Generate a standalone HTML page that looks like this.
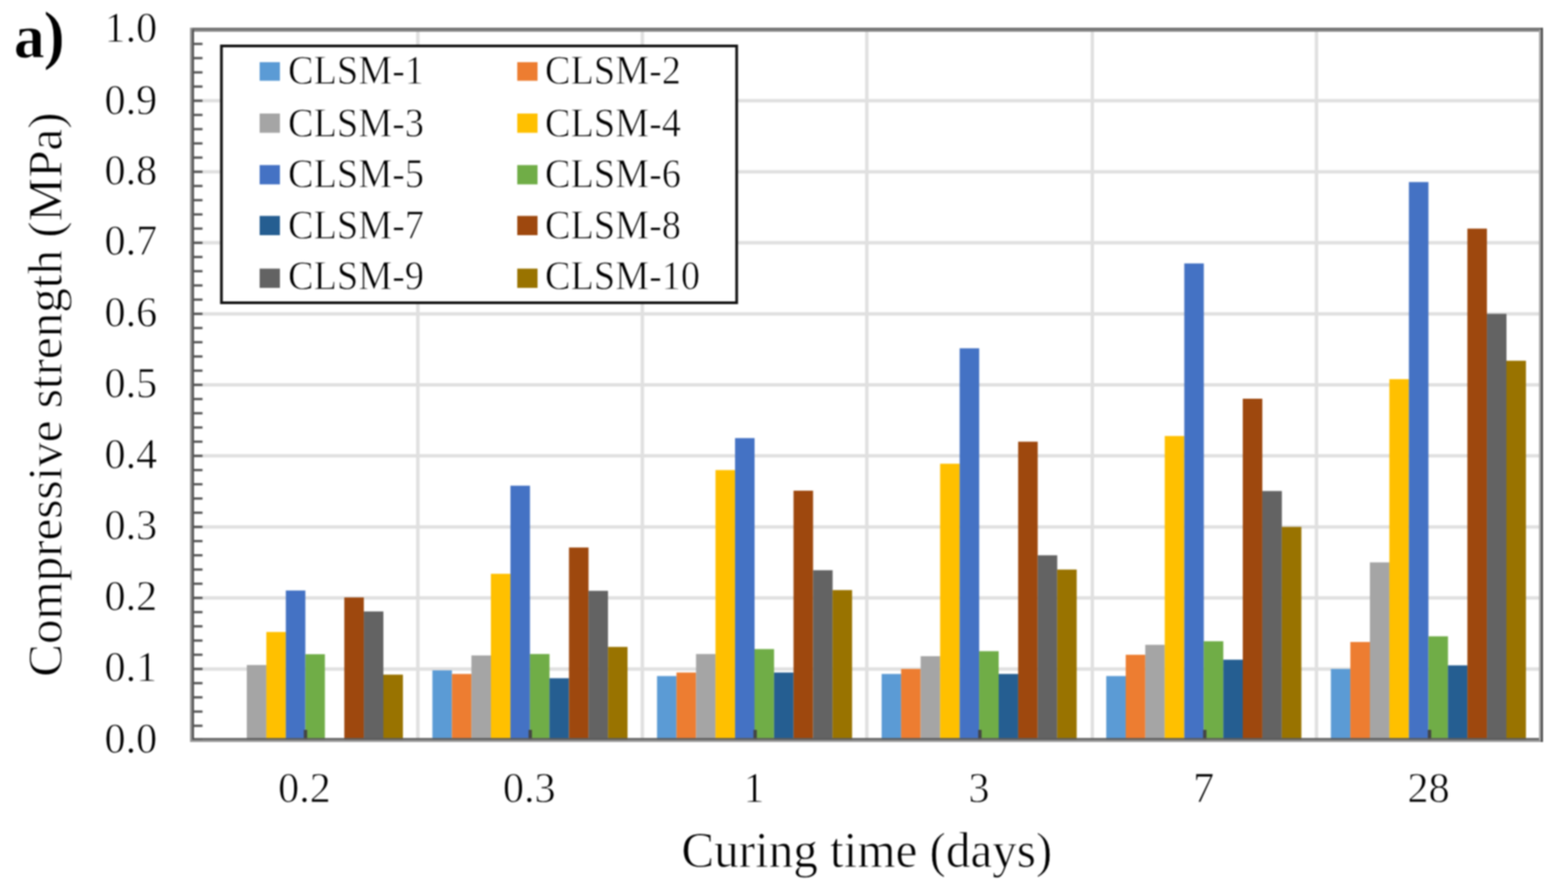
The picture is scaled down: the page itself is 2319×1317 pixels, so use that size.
<!DOCTYPE html>
<html lang="en"><head><meta charset="utf-8"><title>Compressive strength vs curing time</title>
<style>html,body{margin:0;padding:0;background:#fff;}body{width:2319px;height:1317px;}svg{display:block;}text{font-family:'Liberation Serif','Times New Roman',Times,serif;fill:#000;}text{stroke:#fff;stroke-width:1.00px;paint-order:fill stroke;}</style>
</head><body>
<svg role="img" aria-label="Bar chart of compressive strength versus curing time" width="2319" height="1317" viewBox="0 0 2319 1317">
<defs><filter id="soft" x="0" y="0" width="2319" height="1317" filterUnits="userSpaceOnUse" color-interpolation-filters="sRGB"><feGaussianBlur stdDeviation="0.90"/></filter></defs>
<rect x="0" y="0" width="2319" height="1317" fill="#fff"/>
<g filter="url(#soft)">
<rect x="-20" y="-20" width="2359" height="1357" fill="#fff"/>
<g stroke="#e0e0e0" stroke-width="5" fill="none">
<line x1="284.0" y1="989.9" x2="2279.0" y2="989.9"/>
<line x1="284.0" y1="884.8" x2="2279.0" y2="884.8"/>
<line x1="284.0" y1="779.7" x2="2279.0" y2="779.7"/>
<line x1="284.0" y1="674.6" x2="2279.0" y2="674.6"/>
<line x1="284.0" y1="569.5" x2="2279.0" y2="569.5"/>
<line x1="284.0" y1="464.4" x2="2279.0" y2="464.4"/>
<line x1="284.0" y1="359.3" x2="2279.0" y2="359.3"/>
<line x1="284.0" y1="254.2" x2="2279.0" y2="254.2"/>
<line x1="284.0" y1="149.1" x2="2279.0" y2="149.1"/>
<line x1="618.0" y1="44.0" x2="618.0" y2="1095.0"/>
<line x1="950.0" y1="44.0" x2="950.0" y2="1095.0"/>
<line x1="1282.0" y1="44.0" x2="1282.0" y2="1095.0"/>
<line x1="1615.5" y1="44.0" x2="1615.5" y2="1095.0"/>
<line x1="1947.0" y1="44.0" x2="1947.0" y2="1095.0"/>
</g>
<g>
<rect x="365.0" y="984.1" width="28.9" height="112.4" fill="#A5A5A5"/>
<rect x="393.9" y="935.2" width="28.9" height="161.3" fill="#FFC000"/>
<rect x="422.7" y="873.8" width="28.9" height="222.7" fill="#4472C4"/>
<rect x="451.6" y="968.1" width="28.9" height="128.4" fill="#70AD47"/>
<rect x="509.2" y="884.1" width="28.9" height="212.4" fill="#9E480E"/>
<rect x="538.1" y="904.8" width="28.9" height="191.7" fill="#636363"/>
<rect x="567.0" y="998.3" width="28.9" height="98.2" fill="#997300"/>
<rect x="639.5" y="992.0" width="28.9" height="104.5" fill="#5B9BD5"/>
<rect x="668.4" y="997.3" width="28.9" height="99.2" fill="#ED7D31"/>
<rect x="697.2" y="969.9" width="28.9" height="126.6" fill="#A5A5A5"/>
<rect x="726.0" y="849.1" width="28.9" height="247.4" fill="#FFC000"/>
<rect x="754.9" y="718.7" width="28.9" height="377.8" fill="#4472C4"/>
<rect x="783.8" y="967.8" width="28.9" height="128.7" fill="#70AD47"/>
<rect x="812.6" y="1003.6" width="28.9" height="92.9" fill="#255E91"/>
<rect x="841.5" y="810.2" width="28.9" height="286.3" fill="#9E480E"/>
<rect x="870.3" y="874.3" width="28.9" height="222.2" fill="#636363"/>
<rect x="899.2" y="957.3" width="28.9" height="139.2" fill="#997300"/>
<rect x="971.7" y="1000.4" width="28.9" height="96.1" fill="#5B9BD5"/>
<rect x="1000.5" y="995.2" width="28.9" height="101.3" fill="#ED7D31"/>
<rect x="1029.4" y="967.8" width="28.9" height="128.7" fill="#A5A5A5"/>
<rect x="1058.2" y="695.6" width="28.9" height="400.9" fill="#FFC000"/>
<rect x="1087.1" y="648.3" width="28.9" height="448.2" fill="#4472C4"/>
<rect x="1115.9" y="960.5" width="28.9" height="136.0" fill="#70AD47"/>
<rect x="1144.8" y="995.2" width="28.9" height="101.3" fill="#255E91"/>
<rect x="1173.6" y="726.1" width="28.9" height="370.4" fill="#9E480E"/>
<rect x="1202.5" y="843.8" width="28.9" height="252.7" fill="#636363"/>
<rect x="1231.3" y="873.2" width="28.9" height="223.3" fill="#997300"/>
<rect x="1303.9" y="997.3" width="28.9" height="99.2" fill="#5B9BD5"/>
<rect x="1332.7" y="989.9" width="28.9" height="106.6" fill="#ED7D31"/>
<rect x="1361.6" y="971.0" width="28.9" height="125.5" fill="#A5A5A5"/>
<rect x="1390.4" y="686.2" width="28.9" height="410.3" fill="#FFC000"/>
<rect x="1419.3" y="515.4" width="28.9" height="581.1" fill="#4472C4"/>
<rect x="1448.1" y="963.6" width="28.9" height="132.9" fill="#70AD47"/>
<rect x="1477.0" y="997.3" width="28.9" height="99.2" fill="#255E91"/>
<rect x="1505.8" y="653.6" width="28.9" height="442.9" fill="#9E480E"/>
<rect x="1534.7" y="821.7" width="28.9" height="274.8" fill="#636363"/>
<rect x="1563.5" y="842.8" width="28.9" height="253.7" fill="#997300"/>
<rect x="1636.1" y="1000.4" width="28.9" height="96.1" fill="#5B9BD5"/>
<rect x="1664.9" y="968.9" width="28.9" height="127.6" fill="#ED7D31"/>
<rect x="1693.8" y="954.2" width="28.9" height="142.3" fill="#A5A5A5"/>
<rect x="1722.6" y="645.2" width="28.9" height="451.3" fill="#FFC000"/>
<rect x="1751.5" y="389.8" width="28.9" height="706.7" fill="#4472C4"/>
<rect x="1780.3" y="948.9" width="28.9" height="147.6" fill="#70AD47"/>
<rect x="1809.2" y="976.2" width="28.9" height="120.3" fill="#255E91"/>
<rect x="1838.0" y="590.0" width="28.9" height="506.5" fill="#9E480E"/>
<rect x="1866.9" y="726.6" width="28.9" height="369.9" fill="#636363"/>
<rect x="1895.8" y="779.7" width="28.9" height="316.8" fill="#997300"/>
<rect x="1968.3" y="989.9" width="28.9" height="106.6" fill="#5B9BD5"/>
<rect x="1997.1" y="950.0" width="28.9" height="146.5" fill="#ED7D31"/>
<rect x="2026.0" y="832.2" width="28.9" height="264.2" fill="#A5A5A5"/>
<rect x="2054.8" y="561.1" width="28.9" height="535.4" fill="#FFC000"/>
<rect x="2083.7" y="269.4" width="28.9" height="827.1" fill="#4472C4"/>
<rect x="2112.6" y="941.6" width="28.9" height="154.9" fill="#70AD47"/>
<rect x="2141.4" y="984.6" width="28.9" height="111.9" fill="#255E91"/>
<rect x="2170.2" y="338.3" width="28.9" height="758.2" fill="#9E480E"/>
<rect x="2199.1" y="464.4" width="28.9" height="632.1" fill="#636363"/>
<rect x="2227.9" y="533.8" width="28.9" height="562.7" fill="#997300"/>
</g>
<g stroke="#555" stroke-width="3.4" fill="none">
<line x1="284.0" y1="1095.0" x2="299.5" y2="1095.0"/>
<line x1="284.0" y1="1074.0" x2="299.5" y2="1074.0"/>
<line x1="284.0" y1="1053.0" x2="299.5" y2="1053.0"/>
<line x1="284.0" y1="1031.9" x2="299.5" y2="1031.9"/>
<line x1="284.0" y1="1010.9" x2="299.5" y2="1010.9"/>
<line x1="284.0" y1="989.9" x2="299.5" y2="989.9"/>
<line x1="284.0" y1="968.9" x2="299.5" y2="968.9"/>
<line x1="284.0" y1="947.9" x2="299.5" y2="947.9"/>
<line x1="284.0" y1="926.8" x2="299.5" y2="926.8"/>
<line x1="284.0" y1="905.8" x2="299.5" y2="905.8"/>
<line x1="284.0" y1="884.8" x2="299.5" y2="884.8"/>
<line x1="284.0" y1="863.8" x2="299.5" y2="863.8"/>
<line x1="284.0" y1="842.8" x2="299.5" y2="842.8"/>
<line x1="284.0" y1="821.7" x2="299.5" y2="821.7"/>
<line x1="284.0" y1="800.7" x2="299.5" y2="800.7"/>
<line x1="284.0" y1="779.7" x2="299.5" y2="779.7"/>
<line x1="284.0" y1="758.7" x2="299.5" y2="758.7"/>
<line x1="284.0" y1="737.7" x2="299.5" y2="737.7"/>
<line x1="284.0" y1="716.6" x2="299.5" y2="716.6"/>
<line x1="284.0" y1="695.6" x2="299.5" y2="695.6"/>
<line x1="284.0" y1="674.6" x2="299.5" y2="674.6"/>
<line x1="284.0" y1="653.6" x2="299.5" y2="653.6"/>
<line x1="284.0" y1="632.6" x2="299.5" y2="632.6"/>
<line x1="284.0" y1="611.5" x2="299.5" y2="611.5"/>
<line x1="284.0" y1="590.5" x2="299.5" y2="590.5"/>
<line x1="284.0" y1="569.5" x2="299.5" y2="569.5"/>
<line x1="284.0" y1="548.5" x2="299.5" y2="548.5"/>
<line x1="284.0" y1="527.5" x2="299.5" y2="527.5"/>
<line x1="284.0" y1="506.4" x2="299.5" y2="506.4"/>
<line x1="284.0" y1="485.4" x2="299.5" y2="485.4"/>
<line x1="284.0" y1="464.4" x2="299.5" y2="464.4"/>
<line x1="284.0" y1="443.4" x2="299.5" y2="443.4"/>
<line x1="284.0" y1="422.4" x2="299.5" y2="422.4"/>
<line x1="284.0" y1="401.3" x2="299.5" y2="401.3"/>
<line x1="284.0" y1="380.3" x2="299.5" y2="380.3"/>
<line x1="284.0" y1="359.3" x2="299.5" y2="359.3"/>
<line x1="284.0" y1="338.3" x2="299.5" y2="338.3"/>
<line x1="284.0" y1="317.3" x2="299.5" y2="317.3"/>
<line x1="284.0" y1="296.2" x2="299.5" y2="296.2"/>
<line x1="284.0" y1="275.2" x2="299.5" y2="275.2"/>
<line x1="284.0" y1="254.2" x2="299.5" y2="254.2"/>
<line x1="284.0" y1="233.2" x2="299.5" y2="233.2"/>
<line x1="284.0" y1="212.2" x2="299.5" y2="212.2"/>
<line x1="284.0" y1="191.1" x2="299.5" y2="191.1"/>
<line x1="284.0" y1="170.1" x2="299.5" y2="170.1"/>
<line x1="284.0" y1="149.1" x2="299.5" y2="149.1"/>
<line x1="284.0" y1="128.1" x2="299.5" y2="128.1"/>
<line x1="284.0" y1="107.1" x2="299.5" y2="107.1"/>
<line x1="284.0" y1="86.0" x2="299.5" y2="86.0"/>
<line x1="284.0" y1="65.0" x2="299.5" y2="65.0"/>
<line x1="284.0" y1="44.0" x2="299.5" y2="44.0"/>
</g>
<g stroke="#444" stroke-width="5" fill="none">
<line x1="451.8" y1="1080.0" x2="451.8" y2="1095.0"/>
<line x1="784.2" y1="1080.0" x2="784.2" y2="1095.0"/>
<line x1="1116.8" y1="1080.0" x2="1116.8" y2="1095.0"/>
<line x1="1449.2" y1="1080.0" x2="1449.2" y2="1095.0"/>
<line x1="1781.8" y1="1080.0" x2="1781.8" y2="1095.0"/>
<line x1="2114.2" y1="1080.0" x2="2114.2" y2="1095.0"/>
</g>
<g>
<rect x="281" y="41" width="2001" height="3" fill="#707070"/>
<rect x="284" y="44" width="1995" height="3" fill="#888"/>
<rect x="281" y="1095" width="2001" height="3" fill="#999"/>
<rect x="284" y="1092" width="1995" height="3" fill="#5c5c5c" fill-opacity="0.92"/>
<rect x="281" y="41" width="3" height="1057" fill="#999"/>
<rect x="284" y="44" width="3" height="1051" fill="#555"/>
<rect x="2276" y="44" width="3" height="1051" fill="#aaa"/>
<rect x="2279" y="41" width="3" height="1057" fill="#4d4d4d"/>
</g>
<rect x="327.5" y="68" width="762" height="380" fill="#fff" stroke="#111" stroke-width="4"/>
<g font-size="61">
<rect x="384.0" y="92.0" width="30" height="27.5" fill="#5B9BD5"/>
<text transform="translate(426.0,123.5) scale(0.927,1)">CLSM-1</text>
<rect x="765.0" y="92.0" width="30" height="27.5" fill="#ED7D31"/>
<text transform="translate(806.0,123.5) scale(0.927,1)">CLSM-2</text>
<rect x="384.0" y="168.0" width="30" height="28.5" fill="#A5A5A5"/>
<text transform="translate(426.0,201.6) scale(0.927,1)">CLSM-3</text>
<rect x="765.0" y="168.0" width="30" height="28.5" fill="#FFC000"/>
<text transform="translate(806.0,201.6) scale(0.927,1)">CLSM-4</text>
<rect x="384.0" y="244.3" width="30" height="28.5" fill="#4472C4"/>
<text transform="translate(426.0,276.5) scale(0.927,1)">CLSM-5</text>
<rect x="765.0" y="244.3" width="30" height="28.5" fill="#70AD47"/>
<text transform="translate(806.0,276.5) scale(0.927,1)">CLSM-6</text>
<rect x="384.0" y="319.5" width="30" height="28.5" fill="#255E91"/>
<text transform="translate(426.0,352.5) scale(0.927,1)">CLSM-7</text>
<rect x="765.0" y="319.5" width="30" height="28.5" fill="#9E480E"/>
<text transform="translate(806.0,352.5) scale(0.927,1)">CLSM-8</text>
<rect x="384.0" y="397.5" width="30" height="28.5" fill="#636363"/>
<text transform="translate(426.0,427.5) scale(0.927,1)">CLSM-9</text>
<rect x="765.0" y="397.5" width="30" height="28.5" fill="#997300"/>
<text transform="translate(806.0,427.5) scale(0.927,1)">CLSM-10</text>
</g>
<g font-size="62.5" text-anchor="end">
<text x="232.5" y="1113.5">0.0</text>
<text x="232.5" y="1008.4">0.1</text>
<text x="232.5" y="903.3">0.2</text>
<text x="232.5" y="798.2">0.3</text>
<text x="232.5" y="693.1">0.4</text>
<text x="232.5" y="588.0">0.5</text>
<text x="232.5" y="482.9">0.6</text>
<text x="232.5" y="377.0">0.7</text>
<text x="232.5" y="272.7">0.8</text>
<text x="232.5" y="168.6">0.9</text>
<text x="232.5" y="61.7">1.0</text>
</g>
<g font-size="62.5" text-anchor="middle">
<text x="450.2" y="1186.5">0.2</text>
<text x="782.8" y="1186.5">0.3</text>
<text x="1115.2" y="1186.5">1</text>
<text x="1447.8" y="1186.5">3</text>
<text x="1780.2" y="1186.5">7</text>
<text x="2112.8" y="1186.5">28</text>
</g>
<text font-size="74.2" text-anchor="middle" transform="translate(1282,1283) scale(0.9785,1)">Curing time (days)</text>
<text font-size="72.65" text-anchor="middle" transform="translate(91.2,583.9) rotate(-90)">Compressive strength (MPa)</text>
<text font-size="94" font-weight="bold" transform="translate(20.5,85) scale(0.97,1)">a<tspan font-size="98" dx="-2" dy="-1.5">)</tspan></text>
</g>
</svg>
</body></html>
